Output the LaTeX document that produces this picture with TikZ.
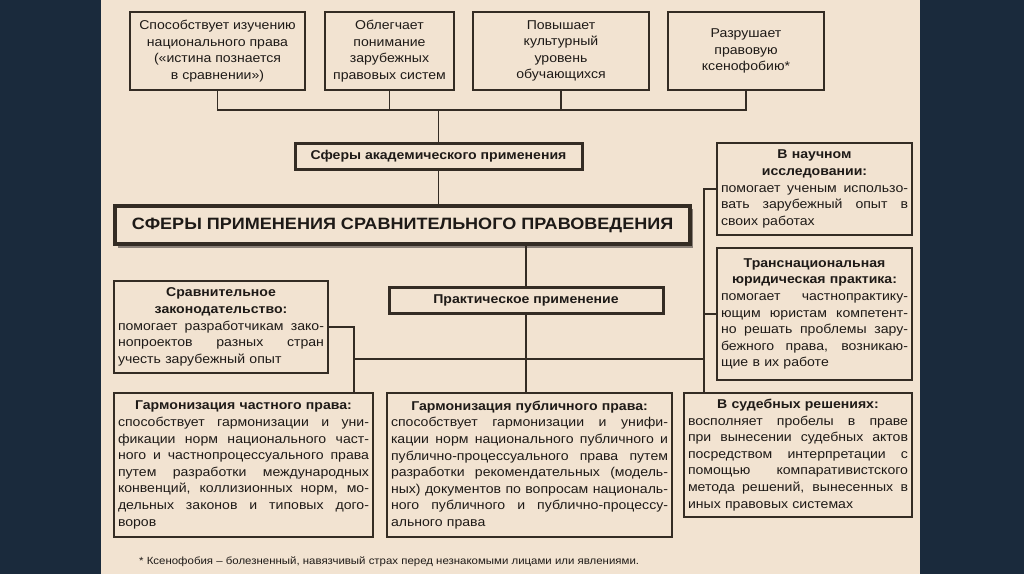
\documentclass[tikz,border=0pt]{standalone}
\usepackage{fontspec}
\setmainfont{Liberation Sans}[FakeStretch=1.1]
\usetikzlibrary{calc}
\definecolor{bg}{HTML}{F2E3D1}
\definecolor{side}{HTML}{1A2A3C}
\definecolor{bord}{HTML}{342C24}
\definecolor{txt}{HTML}{1E1A17}
\definecolor{shad}{HTML}{8A8078}
\newlength\jw
\newcommand\J[1]{\leavevmode\hbox to \jw{\spaceskip=\fontdimen2\font plus 1fil\relax #1}}
\newcommand\Lst[1]{\leavevmode\hbox to \jw{#1\hfil}}
\tikzset{
  sbox/.style={draw=bord, line width=1.6pt, fill=bg, text=txt, inner xsep=4pt, inner ysep=2pt,
    align=center, font=\fontsize{12.8}{16.6}\selectfont},
  jbox/.style={sbox, text width=#1, execute at begin node={\setlength\jw{#1}}},
  thick box/.style={draw=bord, line width=3pt, fill=bg, text=txt, inner sep=0pt,
    font=\bfseries\fontsize{12.8}{15}\selectfont},
  conn/.style={draw=bord, line width=1.5pt}
}
\begin{document}
\begin{tikzpicture}[x=1pt,y=-1pt]
\useasboundingbox (0,0) rectangle (1024,574);
\fill[side] (0,0) rectangle (1024,574);
\fill[bg] (101,0) rectangle (920,574);

% top boxes
\node[sbox, minimum width=175pt, minimum height=78pt] (A) at (217.5,51)
  {Способствует изучению\\национального права\\(«истина познается\\в сравнении»)};
\node[sbox, minimum width=129pt, minimum height=78pt] (B) at (389.5,51)
  {Облегчает\\понимание\\зарубежных\\правовых систем};
\node[sbox, minimum width=176pt, minimum height=78pt] (C) at (561,51)
  {Повышает\\культурный\\уровень\\обучающихся};
\node[sbox, minimum width=156pt, minimum height=78pt] (D) at (746,51)
  {Разрушает\\правовую\\ксенофобию*};

% academic
\fill[shad] (297,145) rectangle (584,171);
\node[thick box, minimum width=287pt, minimum height=26pt] (acad) at (438.5,156)
  {Сферы академического применения};

% main title
\fill[shad] (118,209) rectangle (693,248);
\node[draw=bord, line width=3.5pt, fill=bg, text=txt, minimum width=575pt, minimum height=38pt,
  font=\bfseries\fontsize{16.4}{18}\selectfont] (main) at (402.5,225)
  {СФЕРЫ ПРИМЕНЕНИЯ СРАВНИТЕЛЬНОГО ПРАВОВЕДЕНИЯ};
\draw[bord, line width=0.8pt] ($(main.north west)+(3.5,3.5)$) rectangle ($(main.south east)+(-3.5,-3.5)$);

% practical
\fill[shad] (391,289) rectangle (665,315);
\node[thick box, minimum width=274pt, minimum height=26pt] (prac) at (526,300)
  {Практическое применение};

% left box
\node[jbox=206pt, minimum height=92pt] (left) at (221,327)
  {\textbf{Сравнительное}\\\textbf{законодательство:}\\
   \J{помогает разработчикам зако-}\\
   \J{нопроектов разных стран}\\
   \Lst{учесть зарубежный опыт}};

% research
\node[jbox=187pt, minimum height=92pt] (res) at (814.5,189)
  {\textbf{В научном}\\\textbf{исследовании:}\\
   \J{помогает ученым использо-}\\
   \J{вать зарубежный опыт в}\\
   \Lst{своих работах}};

% transnational
\node[jbox=187pt, minimum height=132pt] (trans) at (814.5,314)
  {\textbf{Транснациональная}\\\textbf{юридическая практика:}\\
   \J{помогает частнопрактику-}\\
   \J{ющим юристам компетент-}\\
   \J{но решать проблемы зару-}\\
   \J{бежного права, возникаю-}\\
   \Lst{щие в их работе}};

% private
\node[jbox=251pt, minimum height=144pt] (priv) at (243.5,465)
  {\textbf{Гармонизация частного права:}\\
   \J{способствует гармонизации и уни-}\\
   \J{фикации норм национального част-}\\
   \J{ного и частнопроцессуального права}\\
   \J{путем разработки международных}\\
   \J{конвенций, коллизионных норм, мо-}\\
   \J{дельных законов и типовых дого-}\\
   \Lst{воров}};

% public
\node[jbox=277pt, minimum height=144pt] (pub) at (529.5,465)
  {\textbf{Гармонизация публичного права:}\\
   \J{способствует гармонизации и унифи-}\\
   \J{кации норм национального публичного и}\\
   \J{публично-процессуального права путем}\\
   \J{разработки рекомендательных (модель-}\\
   \J{ных) документов по вопросам националь-}\\
   \J{ного публичного и публично-процессу-}\\
   \Lst{ального права}};

% judicial
\node[jbox=220pt, minimum height=124pt] (jud) at (798,455)
  {\textbf{В судебных решениях:}\\
   \J{восполняет пробелы в праве}\\
   \J{при вынесении судебных актов}\\
   \J{посредством интерпретации с}\\
   \J{помощью компаративистского}\\
   \J{метода решений, вынесенных в}\\
   \Lst{иных правовых системах}};

% footnote
\node[anchor=west, text=txt, inner sep=0pt, font=\fontsize{10.4}{12}\selectfont] (fn) at (139,562)
  {* Ксенофобия – болезненный, навязчивый страх перед незнакомыми лицами или явлениями.};

% connectors top
\coordinate (bus) at (438.5,110);
\draw[conn] (A.south) |- (bus);
\draw[conn] (D.south) |- (bus);
\draw[conn] (B.south) -- (B.south |- bus);
\draw[conn] (C.south) -- (C.south |- bus);
\draw[conn] (bus) -- (acad.north);
\draw[conn] (acad.south) -- (acad.south |- main.north);

% connectors practical
\draw[conn] (main.south -| prac.north) -- (prac.north);
\draw[conn] (prac.south) -- (prac.south |- pub.north);
\coordinate (lj) at (354,359);
\coordinate (rj) at (704,359);
\draw[conn] (lj) -- (rj);
\draw[conn] (left.east) -| (lj |- priv.north);
\draw[conn] (res.west) -| (rj |- jud.north);
\draw[conn] (trans.west) -- (trans.west -| rj);
\end{tikzpicture}
\end{document}
